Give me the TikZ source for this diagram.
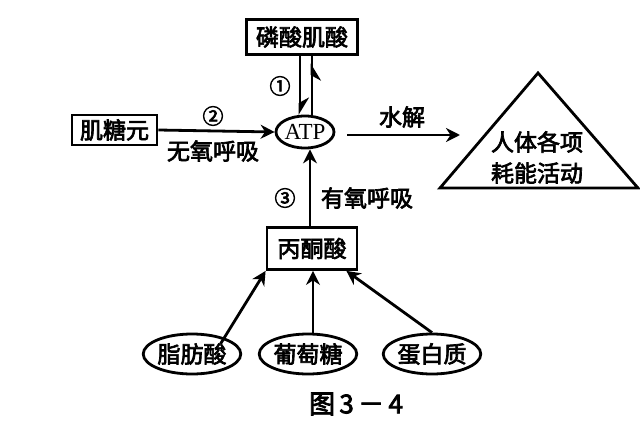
\documentclass[tikz,border=0pt]{standalone}
\usepackage{fontspec}
\newfontfamily\cjk[AutoFakeBold=3]{Noto Sans CJK SC}
\setmainfont{Liberation Serif}
\usetikzlibrary{arrows.meta,shapes.geometric,decorations.markings}
\begin{document}
\begin{tikzpicture}[x=1pt,y=-1pt,
  every node/.style={font=\cjk\bfseries\fontsize{23}{26}\selectfont, inner sep=0pt},
  boxnode/.style={draw, line width=2.8pt, minimum height=35pt, inner xsep=5pt},
  ovalnode/.style={draw, ellipse, line width=2.8pt, minimum width=90pt, minimum height=40pt},
  conn/.style={line width=2.8pt, -{Stealth[length=14pt,width=14pt]}},
  lbl/.style={font=\cjk\bfseries\fontsize{23}{26}\selectfont},
  num/.style={font=\cjk\bfseries\fontsize{21}{22}\selectfont}]
\useasboundingbox (0,0) rectangle (640,428);
\fill[white] (0,0) rectangle (640,428);
% nodes
\node[boxnode, minimum width=111pt] (pcr) at (302,37) {磷酸肌酸};
\node[boxnode, minimum width=85pt, minimum height=30pt] (gly) at (114.5,130) {肌糖元};
\node[draw, ellipse, line width=2.8pt, minimum width=58pt, minimum height=32pt, font=\fontsize{23}{26}\selectfont] (atp) at (305,132) {ATP};
\node[boxnode, minimum width=90pt, minimum height=42pt] (pyr) at (312,248.5) {丙酮酸};
\coordinate (tA) at (538,73);
\coordinate (tB) at (440,188);
\coordinate (tC) at (638,188);
\draw[line width=2.8pt, line join=miter] (tA) -- (tB) -- (tC) -- cycle;
\node (t1) at (537,142) {人体各项};
\node (t2) at (537,173) {耗能活动};
\node[ovalnode] (fat) at (192,354) {脂肪酸};
\node[ovalnode] (glu) at (308,354) {葡萄糖};
\node[ovalnode] (pro) at (432,354) {蛋白质};
\coordinate (hydend) at (460,135);
% connectors
\draw[line width=2.8pt, -{Stealth[left,length=15pt,width=18pt]}] (pcr.south -| 300,0) -- (atp.north -| 300,0);
\draw[line width=2.8pt, decoration={markings, mark=at position 0.87 with {\arrow{Stealth[right,length=15pt,width=18pt]}}}, postaction=decorate] (atp.north -| 312,0) -- (pcr.south -| 312,0);
\draw[conn] (gly.east) -- (atp.west);
\draw[conn] (atp.east) ++(12,3) coordinate (hstart) (hstart) -- (hydend);
\draw[conn] (pyr.north -| 310,0) -- (atp.south -| 310,0);
\draw[conn] (fat.north east) ++(-7,5) coordinate (f1) (f1) -- (pyr.south west);
\draw[conn] (glu.north -| 313,0) -- (pyr.south -| 313,0);
\draw[conn] (pro.north) coordinate (p1) (p1) -- ([xshift=-12pt,yshift=0pt]pyr.south east);
% labels
\node[num] (n1) at (280,86) {①};
\node[num] (n2) at (213,116) {②};
\node[num] (n3) at (285,198) {③};
\node[lbl] (l2) at (213,151) {无氧呼吸};
\node[lbl] (l3) at (367,198) {有氧呼吸};
\node[lbl] (lh) at (402,117) {水解};
\node[font=\cjk\bfseries\fontsize{26}{28}\selectfont] (cap) at (356,404) {图\,3\,－\,4};
\end{tikzpicture}
\end{document}
